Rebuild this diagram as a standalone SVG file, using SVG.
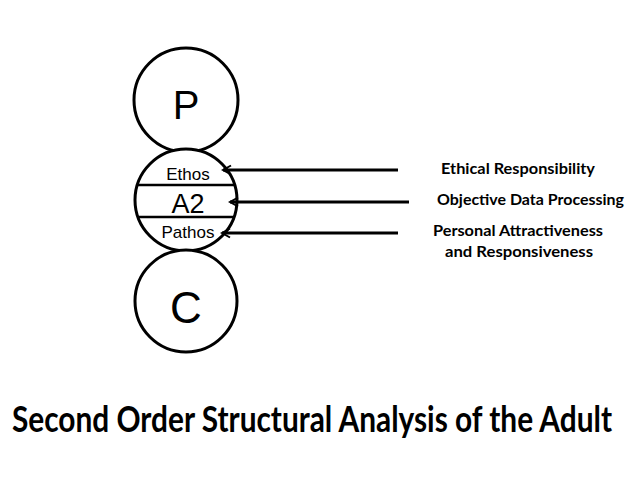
<svg xmlns="http://www.w3.org/2000/svg" width="638" height="478" viewBox="0 0 638 478">
<style>
.c{fill:#fff;stroke:#000;stroke-width:3}
.ln{stroke:#000;stroke-width:2.5;fill:none}
.ar{stroke:#000;stroke-width:3;fill:none}
.big{font-family:"Liberation Sans",Arial,sans-serif;font-size:40px;text-anchor:middle;fill:#000}
.sm{font-family:"Liberation Sans",Arial,sans-serif;font-size:17px;text-anchor:middle;fill:#000}
.lab{font-family:Lato,"Open Sans",sans-serif;font-weight:bold;font-size:15px;fill:#000}
.title{font-family:Lato,"Open Sans",sans-serif;font-weight:bold;font-size:37px;fill:#000}
</style>
<defs>
<marker id="ah" markerWidth="12" markerHeight="12" refX="10" refY="6" orient="auto" markerUnits="userSpaceOnUse">
<polyline points="2,1.5 10,6 2,10.5" fill="none" stroke="#000" stroke-width="2"/>
</marker>
</defs>
<g id="P">
<circle class="c" cx="186" cy="100" r="52"/>
<text class="big" x="186" y="119">P</text>
</g>
<g id="A2">
<circle class="c" cx="186" cy="200" r="51"/>
<line class="ln" x1="137" y1="185" x2="235" y2="185"/>
<line class="ln" x1="137" y1="217" x2="235" y2="217"/>
<text class="sm" x="188" y="180">Ethos</text>
<text class="big" x="188" y="213" style="font-size:27px">A2</text>
<text class="sm" x="188" y="238">Pathos</text>
</g>
<g id="C">
<circle class="c" cx="186" cy="301" r="51"/>
<text class="big" x="186" y="323" style="font-size:44px">C</text>
</g>
<g id="connectors">
<line class="ar" x1="398" y1="170" x2="223" y2="170" marker-end="url(#ah)"/>
<line class="ar" x1="409" y1="202" x2="230" y2="202" marker-end="url(#ah)"/>
<line class="ar" x1="398" y1="233" x2="222" y2="233" marker-end="url(#ah)"/>
</g>
<g id="labels">
<text class="lab" x="441" y="174" textLength="154" lengthAdjust="spacingAndGlyphs">Ethical Responsibility</text>
<text class="lab" x="437" y="205" textLength="187" lengthAdjust="spacingAndGlyphs">Objective Data Processing</text>
<text class="lab" x="433" y="236" textLength="170" lengthAdjust="spacingAndGlyphs">Personal Attractiveness</text>
<text class="lab" x="445" y="257" textLength="148" lengthAdjust="spacingAndGlyphs">and Responsiveness</text>
</g>
<text class="title" transform="translate(12 432) scale(0.75 1)" x="0" y="0" textLength="800" lengthAdjust="spacingAndGlyphs">Second Order Structural Analysis of the Adult</text>
</svg>
